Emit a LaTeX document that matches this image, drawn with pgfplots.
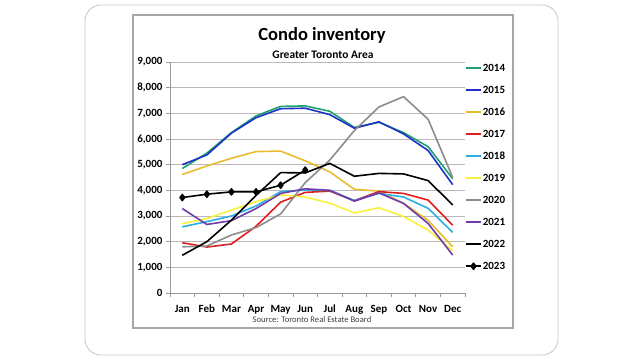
\documentclass[border=0pt]{standalone}
\usepackage{fontspec}
\setmainfont{Carlito}
\usepackage{pgfplots}
\pgfplotsset{compat=1.18}
\usepackage{pgfplotstable}
\definecolor{c14}{RGB}{32,160,110}
\definecolor{c15}{RGB}{30,50,200}
\definecolor{c16}{RGB}{232,188,45}
\definecolor{c17}{RGB}{222,30,30}
\definecolor{c18}{RGB}{40,175,230}
\definecolor{c19}{RGB}{250,240,60}
\definecolor{c20}{RGB}{140,140,140}
\definecolor{c21}{RGB}{112,60,170}
\pgfplotstableread{
m y14 y15 y16 y17 y18 y19 y20 y21 y22
0 4850 5000 4620 1960 2580 2700 1800 3290 1470
1 5450 5380 4950 1790 2780 2900 1830 2670 2000
2 6250 6230 5250 1910 3000 3230 2260 2820 2840
3 6900 6830 5510 2600 3390 3560 2550 3290 3800
4 7270 7180 5530 3540 3950 3820 3080 3880 4690
5 7290 7200 5150 3920 4010 3740 4300 4060 4680
6 7080 6950 4720 3970 4000 3500 5180 4000 5050
7 6450 6420 4040 3600 3600 3120 6330 3580 4550
8 6650 6670 3970 3950 3880 3320 7250 3900 4660
9 6250 6200 3500 3880 3740 2980 7650 3490 4640
10 5700 5550 2830 3620 3300 2450 6770 2710 4380
11 4450 4220 1800 2640 2360 1650 4500 1480 3430
}\datatable
\pgfplotstableread{
m y23
0 3720
1 3850
2 3940
3 3940
4 4200
5 4790
}\datatwentythree
\begin{document}
\begin{tikzpicture}[x=1pt,y=1pt]
\path[use as bounding box] (0,0) rectangle (640,360);
\draw[gray!45, line width=0.8pt, rounded corners=16pt] (85,5) rectangle (558,355);
\draw[gray!70, line width=1.6pt] (133,32) rectangle (513,345);
\begin{axis}[
  at={(170pt,67pt)}, anchor=south west, scale only axis,
  width=295pt, height=231pt,
  xmin=-0.5, xmax=11.5, ymin=0, ymax=9000,
  axis x line*=bottom, axis y line*=left,
  axis line style={gray!80, line width=0.8pt},
  ymajorgrids, grid style={gray!55, line width=0.8pt},
  ytick={0,1000,...,9000},
  scaled y ticks=false,
  yticklabel style={font=\bfseries\fontsize{11}{13}\selectfont, /pgf/number format/1000 sep={,}, /pgf/number format/assume math mode=true},
  xtick={-0.5,0.5,...,11.5}, xticklabels={},
  extra x ticks={0,1,...,11},
  extra x tick labels={Jan,Feb,Mar,Apr,May,Jun,Jul,Aug,Sep,Oct,Nov,Dec},
  extra x tick style={major tick length=0pt, grid=none, xticklabel style={font=\bfseries\fontsize{11}{13}\selectfont, text height=8pt, text depth=2.5pt, yshift=-8pt}},
  tick align=outside, major tick length=4pt,
  tick style={gray!80, line width=0.8pt},
  every axis plot/.append style={line width=1.6pt, line join=round},
  legend style={at={(1.0,1.0)}, anchor=north west, draw=none, fill=none,
    font=\bfseries\fontsize{11}{13}\selectfont, inner sep=0pt, row sep=10pt,
    nodes={inner sep=1pt, text height=8pt, text depth=2pt}},
  legend cell align=left,
  legend image code/.code={\draw[mark repeat=2, mark phase=2, #1] plot coordinates {(0pt,0pt) (7.5pt,0pt) (15pt,0pt)};},
]
\addplot[c14, no marks] table[x=m, y=y14] {\datatable};
\addlegendentry{2014}
\addplot[c15, no marks] table[x=m, y=y15] {\datatable};
\addlegendentry{2015}
\addplot[c16, no marks] table[x=m, y=y16] {\datatable};
\addlegendentry{2016}
\addplot[c17, no marks] table[x=m, y=y17] {\datatable};
\addlegendentry{2017}
\addplot[c18, no marks] table[x=m, y=y18] {\datatable};
\addlegendentry{2018}
\addplot[c19, no marks] table[x=m, y=y19] {\datatable};
\addlegendentry{2019}
\addplot[c20, no marks] table[x=m, y=y20] {\datatable};
\addlegendentry{2020}
\addplot[c21, no marks] table[x=m, y=y21] {\datatable};
\addlegendentry{2021}
\addplot[black, no marks] table[x=m, y=y22] {\datatable};
\addlegendentry{2022}
\addplot[black, mark=diamond*, mark size=3pt, mark options={solid, fill=black}] table[x=m, y=y23] {\datatwentythree};
\addlegendentry{2023}
\end{axis}
\node[font=\bfseries\fontsize{18.5}{21}\selectfont, anchor=base] at (322,320) {Condo inventory};
\node[font=\bfseries\fontsize{11.5}{13}\selectfont, anchor=base] at (323,302) {Greater Toronto Area};
\node[font=\fontsize{8.6}{10}\selectfont, text=black!75, anchor=base] at (312,38) {Source: Toronto Real Estate Board};
\end{tikzpicture}
\end{document}
